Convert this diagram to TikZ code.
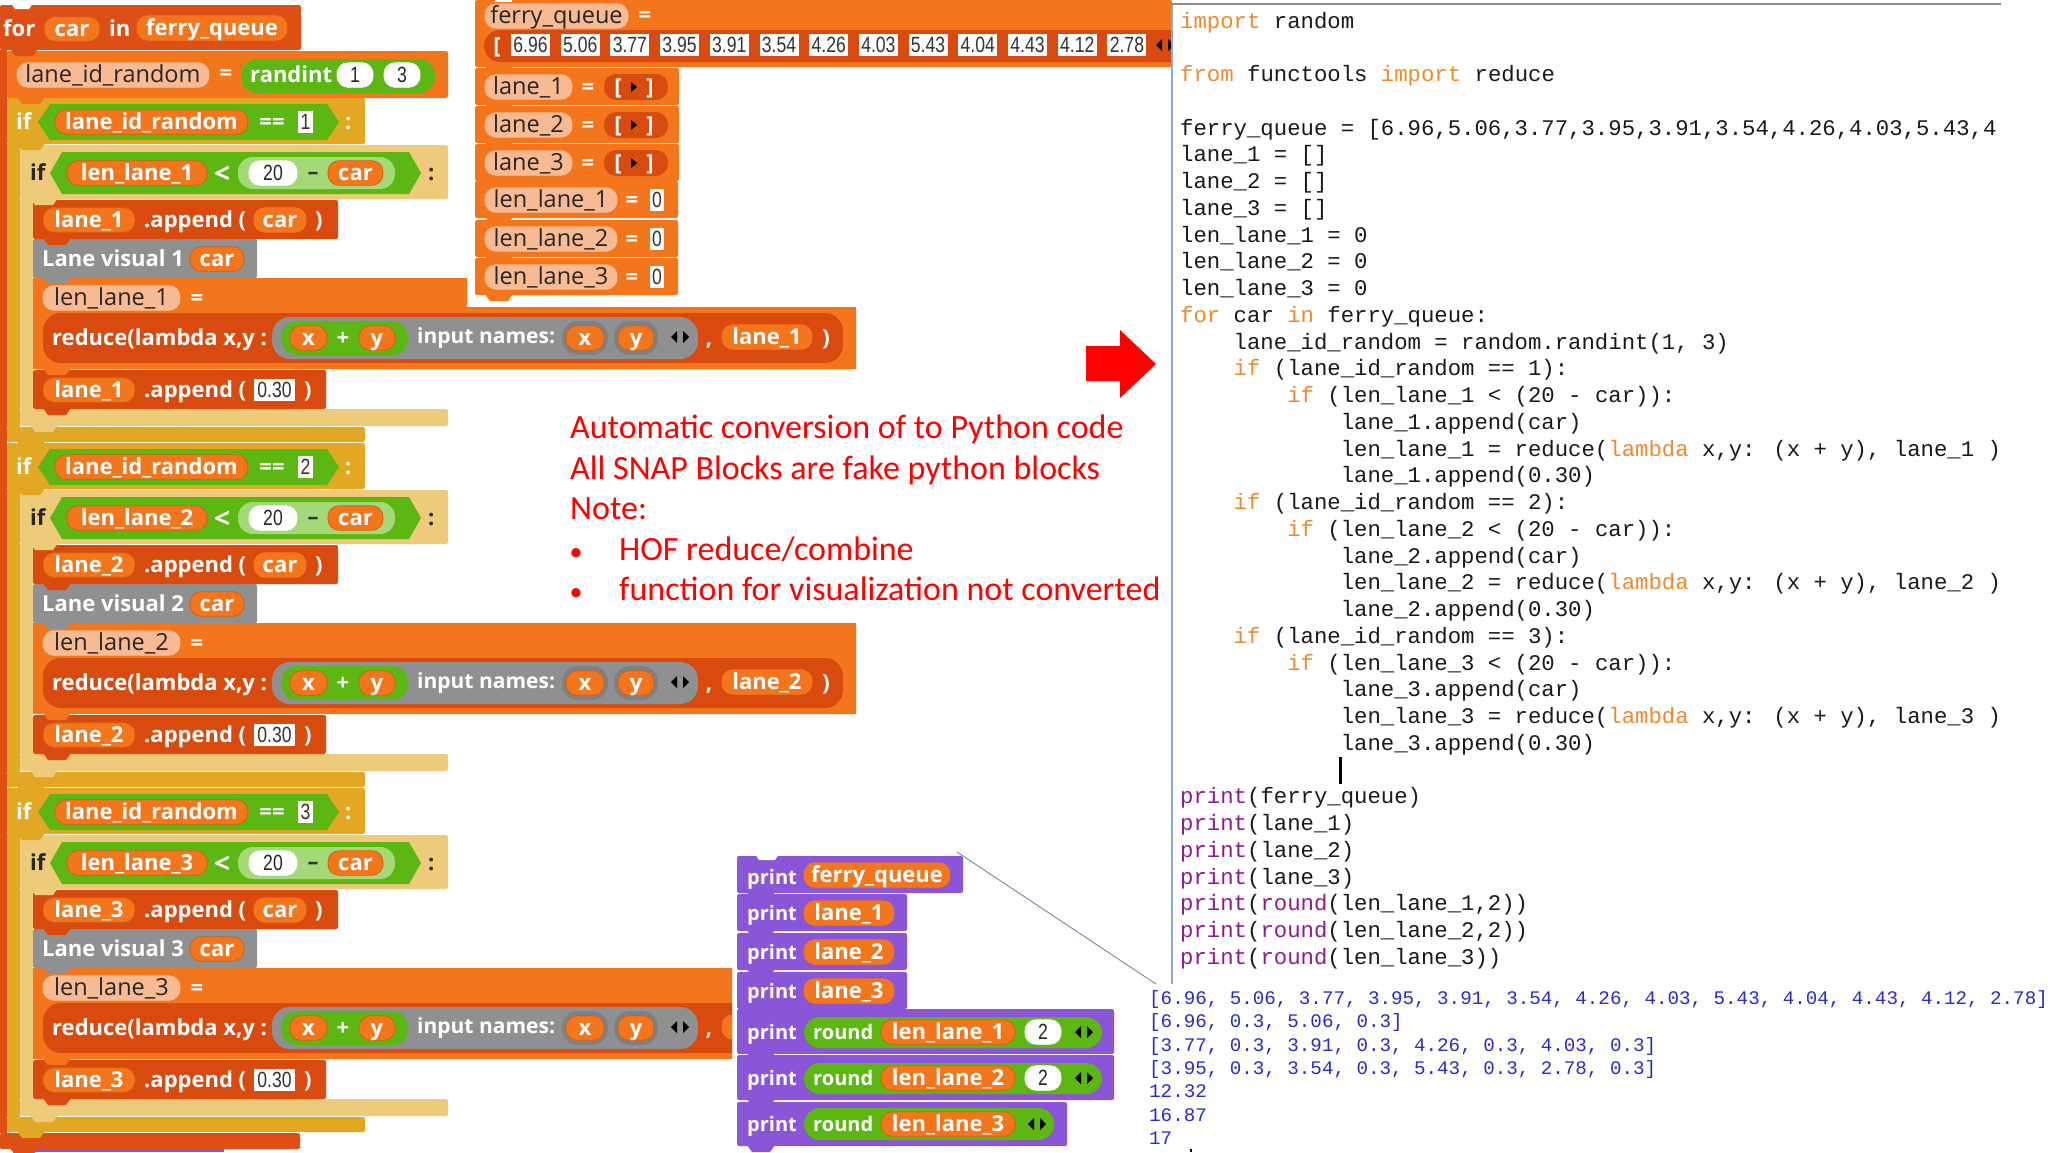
\documentclass[tikz,border=0pt]{standalone}
\usepackage{fontspec}
\setmainfont{Open Sans}
\newfontfamily\codefont{Liberation Mono}
\newfontfamily\numfont[FakeStretch=0.8]{Liberation Sans}
\newfontfamily\notefont{Carlito}
\definecolor{varorange}{HTML}{F3761D}
\definecolor{varedge}{HTML}{D65F14}
\definecolor{varlight}{HTML}{F8BA92}
\definecolor{darkorange}{HTML}{D94A0F}
\definecolor{forred}{HTML}{DD4F14}
\definecolor{ifgold}{HTML}{E3A823}
\definecolor{ifpale}{HTML}{EECB7B}
\definecolor{lanegray}{HTML}{8F9092}
\definecolor{ringgray}{HTML}{7F8082}
\definecolor{opgreen}{HTML}{5DB712}
\definecolor{palegreen}{HTML}{A3D977}
\definecolor{printpurple}{HTML}{8A55D7}
\definecolor{kwcolor}{HTML}{EE8A2C}
\definecolor{fncolor}{HTML}{8E1A8E}
\definecolor{outblue}{HTML}{2A2AC8}
\definecolor{panelline}{HTML}{8FA9CC}
\tikzset{
  lbl/.style={anchor=west, text=white, inner sep=0pt, font=\fontsize{22}{22}\selectfont\bfseries, text height=19.5pt, text depth=5pt},
  dlbl/.style={lbl, text=black!85},
  symb/.style={lbl, anchor=center},
  plbl/.style={lbl, font=\fontsize{20}{20}\selectfont\bfseries},
  varpill/.style={rectangle, rounded corners=11pt, fill=varorange, draw=varedge, line width=.8pt, text=white, inner sep=0pt, font=\fontsize{22}{22}\selectfont\bfseries, text height=19.5pt, text depth=5pt, minimum height=24pt},
  setpill/.style={varpill, fill=varlight, draw=varlight, text=black!85, font=\fontsize{23.5}{23.5}\selectfont},
  whitepill/.style={varpill, fill=white, draw=white, text=black!85, font=\fontsize{22}{22}\numfont},
  numbox/.style={rectangle, fill=white, text=black!80, inner sep=0pt, font=\fontsize{22}{22}\numfont, text height=16.5pt, text depth=1pt, minimum height=22pt},
  code/.style={anchor=west, inner sep=0pt, text=black!90, font=\fontsize{22.3}{22.3}\codefont, text height=15pt, text depth=5pt},
  output/.style={anchor=west, inner sep=0pt, text=outblue, font=\fontsize{19.2}{19.2}\codefont, text height=13pt, text depth=4pt},
  note/.style={anchor=west, inner sep=0pt, text=red, font=\fontsize{34}{34}\notefont, text height=24pt, text depth=7pt},
  dot/.style={note, anchor=center, font=\fontsize{26}{26}\notefont}
}
% one block with its tab below
\newcommand{\blk}[5]{%
  \fill[#5, rounded corners=2pt] (#1,#2) rectangle (#3,#4);
  \tabb{#1}{#4}{#5}}
\newcommand{\tabb}[3]{\fill[#3] ({#1+10},{#2-1}) -- ({#1+15},{#2+6}) -- ({#1+33},{#2+6}) -- ({#1+38},{#2-1}) -- cycle;}
\newcommand{\pl}[5][varpill]{\node[#1, minimum width={#3-#2}] at ({(#2+#3)/2},#4) {#5};}
\newcommand{\nbox}[4]{\node[numbox, minimum width={#2-#1}] at ({(#1+#2)/2},#3) {#4};}
\newcommand{\hexa}[4]{\fill[opgreen] (#1,#3) -- ({#1+12},{#3-#4}) -- ({#2-12},{#3-#4}) -- (#2,#3) -- ({#2-12},{#3+#4}) -- ({#1+12},{#3+#4}) -- cycle;}
\newcommand{\arrs}[2]{\fill[black] ({#1-9},#2) -- ({#1-3},{#2-6}) -- ({#1-3},{#2+6}) -- cycle;
  \fill[black] ({#1+9},#2) -- ({#1+3},{#2-6}) -- ({#1+3},{#2+6}) -- cycle;}
\newcommand{\kw}[1]{\textcolor{kwcolor}{#1}}
\newcommand{\fn}[1]{\textcolor{fncolor}{#1}}
\newcommand{\cl}[3]{\node[code] at ({1180+13.38*#1},{23+26.75*#2}) {#3};}
\newcommand{\emptylist}[1]{\fill[darkorange, rounded corners=12pt] (604,{#1-13}) rectangle (668,{#1+13});
  \node[symb] at (618,#1) {[}; \node[symb] at (650,#1) {]};
  \fill[black] (637,#1) -- (631,{#1-5}) -- (631,{#1+5}) -- cycle;}

\begin{document}
\begin{tikzpicture}[x=1pt, y=-1pt]
  \useasboundingbox (0,0) rectangle (2048,1152);
  % Blocks of the loop, lowest first
  \fill[printpurple] (35,1148) rectangle (224,1152);
  \fill[forred] (0,50) rectangle (7,1133);
  \blk{0}{1133}{300}{1149}{forred}
  \foreach \n/\dy/\xr/\nx in {3/690/732/856, 2/345/860/856, 1/0/860/467}{
    \begin{scope}[shift={(0,\dy)}]
      \clip (0,0) rectangle (\xr,500);
      \fill[ifgold] (7,144) rectangle (20,427);
      \blk{7}{427}{365}{442}{ifgold}
      \fill[ifpale] (20,199) rectangle (33,409);
      \blk{20}{409}{448}{426}{ifpale}
      % lane .append(0.30)
      \blk{33}{370}{326}{409}{darkorange}
      \pl{43}{135}{390}{lane\_\n}
      \node[lbl] at (144,390) {.append (};
      \nbox{254}{295}{390}{0.30}
      \node[lbl] at (304,390) {)};
      % len_lane = reduce
      \fill[varorange] (33,278) -| (\nx,307) -| (856,369) -| (33,278);
      \tabb{33}{369}{varorange}
      \pl[setpill]{43}{180}{298}{len\_lane\_\n}
      \node[symb] at (197,298) {=};
      \fill[darkorange, rounded corners=18pt] (43,313) rectangle (843,363);
      \node[lbl] at (52,338) {reduce(lambda x,y :};
      \fill[lanegray, rounded corners=18pt] (272,317) rectangle (698,359);
      \fill[opgreen, rounded corners=16pt] (281,321) rectangle (408,355);
      \pl{290}{327}{338}{x}
      \node[symb] at (343,338) {+};
      \pl{359}{395}{338}{y}
      \node[lbl, font=\fontsize{21}{21}\selectfont\bfseries] at (417,336) {input names:};
      \fill[ringgray, rounded corners=16pt] (562,321) rectangle (608,355);
      \fill[ringgray, rounded corners=16pt] (614,321) rectangle (658,355);
      \pl{566}{604}{338}{x}
      \pl{618}{654}{338}{y}
      \arrs{680}{337}
      \node[symb] at (709,338) {,};
      \pl[varpill, draw=varorange]{722}{812}{337}{lane\_\n}
      \node[symb] at (826,338) {)};
      % lane visual
      \blk{33}{239}{257}{278}{lanegray}
      \node[lbl] at (42,259) {Lane visual \n};
      \pl{190}{244}{259}{car}
      % lane .append(car)
      \blk{33}{200}{338}{239}{darkorange}
      \pl{43}{135}{220}{lane\_\n}
      \node[lbl] at (144,220) {.append (};
      \pl[varpill, draw=varorange]{254}{306}{220}{car}
      \node[lbl] at (315,220) {)};
      % inner if
      \blk{20}{145}{448}{199}{ifpale}
      \node[dlbl] at (30,173) {if};
      \hexa{50}{421}{173}{21}
      \pl{67}{207}{173}{len\_lane\_\n}
      \node[symb, font=\fontsize{28}{28}\selectfont\bfseries] at (222,176) {<};
      \fill[palegreen, rounded corners=15pt] (238,157) rectangle (395,189);
      \pl[whitepill]{249}{297}{173}{20}
      \node[symb, text=black!80] at (313,172) {--};
      \pl{328}{383}{173}{car}
      \node[dlbl] at (428,173) {:};
      % outer if
      \blk{7}{98}{365}{144}{ifgold}
      \node[lbl] at (16,122) {if};
      \hexa{38}{339}{122}{18}
      \pl{55}{248}{122}{lane\_id\_random}
      \node[symb] at (272,122) {==};
      \nbox{298}{313}{122}{\n}
      \node[lbl] at (345,122) {:};
    \end{scope}
  }
  \blk{7}{51}{448}{98}{varorange}
  \pl[setpill]{17}{209}{75}{lane\_id\_random}
  \node[symb] at (226,73) {=};
  \fill[opgreen, rounded corners=16pt] (241,59) rectangle (435,93);
  \node[lbl] at (250,75) {randint};
  \pl[whitepill]{337}{373}{75}{1}
  \pl[whitepill]{384}{420}{75}{3}
  \blk{0}{5}{301}{50}{forred}
  \fill[white] (11,3) -- (33,3) -- (29,9) -- (15,9) -- cycle;
  \node[lbl] at (3,29) {for};
  \pl[varpill]{44}{100}{29}{car}
  \node[lbl] at (109,29) {in};
  \pl[varpill, draw=varorange]{137}{287}{28}{ferry\_queue}
  % Assignments at the top, lowest first
  \foreach \i/\ya in {3/277, 2/239, 1/200}{
    \blk{475}{\ya-19}{678}{\ya+18}{varorange}
    \pl[setpill]{485}{617}{\ya}{len\_lane\_\i}
    \node[symb] at (632,\ya) {=};
    \nbox{650}{664}{\ya}{0}
  }
  \foreach \i/\ya in {3/163, 2/125, 1/87}{
    \blk{475}{\ya-19}{679}{\ya+18}{varorange}
    \pl[setpill]{485}{572}{\ya}{lane\_\i}
    \node[symb] at (588,\ya) {=};
    \emptylist{\ya}
  }
  \blk{475}{0}{1172}{67}{varorange}
  \fill[white] (495,0) rectangle (512,2);
  \pl[setpill]{485}{628}{16}{ferry\_queue}
  \node[symb] at (645,15) {=};
  \fill[darkorange, rounded corners=16pt] (484,30) rectangle (1200,62);
  \node[symb] at (497,46) {[};
  \foreach \v [count=\i from 0] in {6.96,5.06,3.77,3.95,3.91,3.54,4.26,4.03,5.43,4.04,4.43,4.12,2.78}{
    \pgfmathsetmacro{\xa}{511+49.7*\i}
    \pgfmathsetmacro{\xb}{\xa+39}
    \nbox{\xa}{\xb}{45}{\v}
  }
  \arrs{1165}{45}
  % Code panel
  \fill[white] (1172,0) rectangle (2048,1152);
  \fill[black!45] (1172,3) rectangle (2001,5);
  \coordinate (paneltop) at (1172,5);
  \coordinate (panelend) at (1172,984);
  \draw[panelline, line width=1.2pt] (paneltop) -- (panelend);
  \cl{0}{0}{\kw{import} random}
  \cl{0}{2}{\kw{from} functools \kw{import} reduce}
  \cl{0}{4}{ferry\_queue = [6.96,5.06,3.77,3.95,3.91,3.54,4.26,4.03,5.43,4}
  \cl{0}{5}{lane\_1 = []}
  \cl{0}{6}{lane\_2 = []}
  \cl{0}{7}{lane\_3 = []}
  \cl{0}{8}{len\_lane\_1 = 0}
  \cl{0}{9}{len\_lane\_2 = 0}
  \cl{0}{10}{len\_lane\_3 = 0}
  \cl{0}{11}{\kw{for} car \kw{in} ferry\_queue:}
  \cl{4}{12}{lane\_id\_random = random.randint(1, 3)}
  \foreach \n/\yb in {1/13, 2/18, 3/23}{
    \pgfmathtruncatemacro{\yc}{\yb+1}
    \pgfmathtruncatemacro{\yd}{\yb+2}
    \pgfmathtruncatemacro{\ye}{\yb+3}
    \pgfmathtruncatemacro{\yf}{\yb+4}
    \cl{4}{\yb}{\kw{if} (lane\_id\_random == \n):}
    \cl{8}{\yc}{\kw{if} (len\_lane\_\n{} < (20 - car)):}
    \cl{12}{\yd}{lane\_\n.append(car)}
    \cl{12}{\ye}{len\_lane\_\n{} = reduce(\kw{lambda} x,y: (x + y), lane\_\n{} )}
    \cl{12}{\yf}{lane\_\n.append(0.30)}
  }
  \fill[black] (1339,757) rectangle (1342,784);
  \cl{0}{29}{\fn{print}(ferry\_queue)}
  \cl{0}{30}{\fn{print}(lane\_1)}
  \cl{0}{31}{\fn{print}(lane\_2)}
  \cl{0}{32}{\fn{print}(lane\_3)}
  \cl{0}{33}{\fn{print}(\fn{round}(len\_lane\_1,2))}
  \cl{0}{34}{\fn{print}(\fn{round}(len\_lane\_2,2))}
  \cl{0}{35}{\fn{print}(\fn{round}(len\_lane\_3))}
  % Output
  \node[output] at (1149,1000) {[6.96, 5.06, 3.77, 3.95, 3.91, 3.54, 4.26, 4.03, 5.43, 4.04, 4.43, 4.12, 2.78]};
  \node[output] at (1149,1023) {[6.96, 0.3, 5.06, 0.3]};
  \node[output] at (1149,1047) {[3.77, 0.3, 3.91, 0.3, 4.26, 0.3, 4.03, 0.3]};
  \node[output] at (1149,1070) {[3.95, 0.3, 3.54, 0.3, 5.43, 0.3, 2.78, 0.3]};
  \node[output] at (1149,1093) {12.32};
  \node[output] at (1149,1117) {16.87};
  \node[output] at (1149,1140) {17};
  \fill[black] (1190,1149) rectangle (1192,1152);
  % Red arrow and note
  \fill[red] (1086,346) -- (1120,346) -- (1120,330) -- (1156,364) -- (1120,398) -- (1120,381) -- (1086,381) -- cycle;
  \node[note] at (570,430) {Automatic conversion of to Python code};
  \node[note] at (570,471) {All SNAP Blocks are fake python blocks};
  \node[note] at (570,511) {Note:};
  \node[dot] at (576,552) {•};
  \node[note] at (619,552) {HOF reduce/combine};
  \node[dot] at (576,592) {•};
  \node[note] at (619,592) {function for visualization not converted};
  % Print blocks, lowest first
  \blk{737}{1102}{1067}{1146}{printpurple}
  \node[plbl] at (747,1124) {print};
  \fill[opgreen, rounded corners=16pt] (804,1108) rectangle (1054,1140);
  \node[plbl] at (813,1124) {round};
  \pl{881}{1015}{1124}{len\_lane\_3}
  \arrs{1037}{1124}
  \foreach \i/\yp in {2/1078, 1/1032}{
    \blk{737}{\yp-23}{1114}{\yp+22}{printpurple}
    \node[plbl] at (747,\yp) {print};
    \fill[opgreen, rounded corners=16pt] (804,\yp-15) rectangle (1102,\yp+16);
    \node[plbl] at (813,\yp) {round};
    \pl{881}{1015}{\yp}{len\_lane\_\i}
    \pl[whitepill]{1025}{1061}{\yp}{2}
    \arrs{1084}{\yp}
  }
  \foreach \i/\yp in {3/991, 2/952, 1/913}{
    \blk{737}{\yp-19}{907}{\yp+18}{printpurple}
    \node[plbl] at (747,\yp) {print};
    \pl[varpill, draw=varorange]{804}{894}{\yp}{lane\_\i}
  }
  \blk{737}{856}{963}{893}{printpurple}
  \fill[white] (755,854) -- (779,854) -- (775,860) -- (759,860) -- cycle;
  \node[plbl] at (747,877) {print};
  \pl[varpill, draw=varorange]{804}{950}{875}{ferry\_queue}
  % Leader from the print blocks to the output
  \coordinate (leadstart) at (957,852);
  \coordinate (leadend) at (1156,984);
  \draw[panelline!80!black, line width=.9pt] (leadstart) -- (leadend);
\end{tikzpicture}
\end{document}
